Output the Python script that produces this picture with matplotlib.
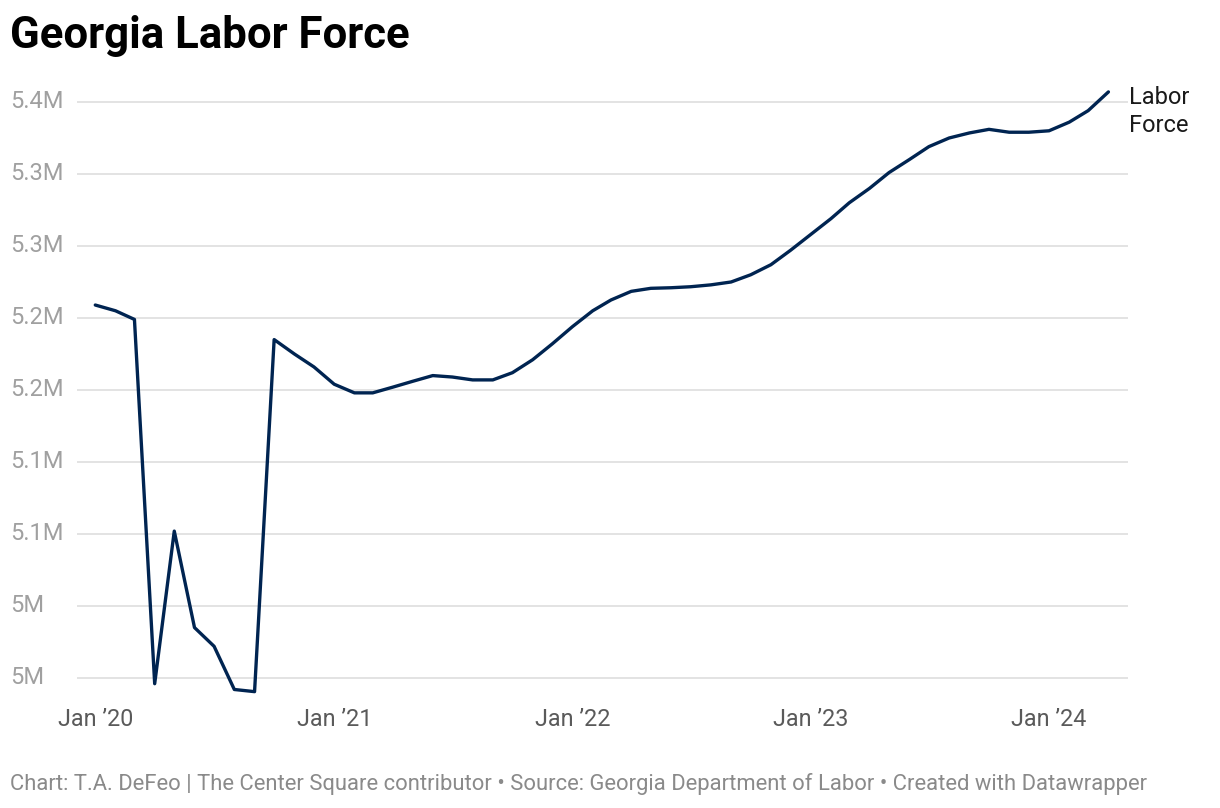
import pandas as pd
import matplotlib.pyplot as plt
from matplotlib.transforms import blended_transform_factory

# monthly labor force, millions (Jan 2020 - Apr 2024)
months = pd.date_range("2020-01-01", periods=52, freq="MS")
labor_force = [
    5.209, 5.205, 5.199, 4.946, 5.052, 4.985, 4.972, 4.942, 4.9405, 5.185, 5.175, 5.166,
    5.154, 5.148, 5.148, 5.152, 5.156, 5.160, 5.159, 5.157, 5.157, 5.162, 5.171, 5.182,
    5.194, 5.205, 5.2125, 5.2185, 5.2206, 5.221, 5.2217, 5.223, 5.225, 5.230, 5.237, 5.247,
    5.258, 5.269, 5.280, 5.290, 5.301, 5.310, 5.319, 5.325, 5.3285, 5.331, 5.329, 5.329,
    5.330, 5.336, 5.344, 5.357,
]

y_ticks = [4.95, 5.0, 5.05, 5.1, 5.15, 5.2, 5.25, 5.3, 5.35]
y_labels = ["5M", "5M", "5.1M", "5.1M", "5.2M", "5.2M", "5.3M", "5.3M", "5.4M"]
x_ticks = pd.to_datetime(["2020-01-01", "2021-01-01", "2022-01-01", "2023-01-01", "2024-01-01"])
x_labels = ["Jan \u201920", "Jan \u201921", "Jan \u201922", "Jan \u201923", "Jan \u201924"]

plt.rcParams["font.family"] = ["Roboto", "DejaVu Sans"]

fig = plt.figure(figsize=(12.2, 8.08), dpi=100)
ax = fig.add_axes([77 / 1220, 108 / 808, (1128 - 77) / 1220, 615 / 808])

ax.plot(months, labor_force, color="#002451", lw=2.4, solid_joinstyle="round",
        solid_capstyle="round", zorder=3)

ax.set_ylim(4.9347, 5.3618)
ax.set_xlim(pd.Timestamp("2019-12-04"), pd.Timestamp("2024-05-01"))

ax.set_yticks(y_ticks)
ax.set_yticklabels([])
ax.yaxis.grid(True, color="#e1e1e1", lw=1.3)
ax.xaxis.grid(False)
ax.tick_params(axis="y", length=0)
ax.tick_params(axis="x", length=0, pad=6, labelsize=16.8, labelcolor="#5a5a5a")
ax.set_xticks(x_ticks)
ax.set_xticklabels(x_labels)
for s in ax.spines.values():
    s.set_visible(False)

# y labels left aligned at the figure edge
trans = blended_transform_factory(fig.transFigure, ax.transData)
for v, lab in zip(y_ticks, y_labels):
    ax.text(10 / 1220, v, lab, transform=trans, ha="left", va="center",
            fontsize=17, color="#a0a0a0")

ax.annotate("Labor\nForce", xy=(months[-1], labor_force[-1]), xytext=(15, 4.5),
            textcoords="offset points", ha="left", va="top",
            fontsize=17, color="#1a1a1a", linespacing=1.3)

fig.text(10 / 1220, 1 - 36 / 808, "Georgia Labor Force", fontsize=31.5, fontweight="bold",
         ha="left", va="center", color="#000000")
fig.text(10 / 1220, 1 - 784 / 808,
         "Chart: T.A. DeFeo | The Center Square contributor \u2022 Source: Georgia Department of Labor \u2022 Created with Datawrapper",
         fontsize=15.85, ha="left", va="center", color="#8a8a8a")

fig.savefig("out.png", dpi=100)
